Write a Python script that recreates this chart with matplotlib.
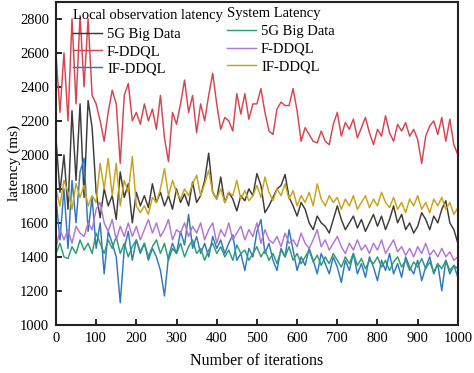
import numpy as np
import matplotlib
matplotlib.use("Agg")
import matplotlib.pyplot as plt

iterations = np.arange(0, 1001, 10)

local_5g = [
    2100, 1780, 2000, 1680, 2260, 1850, 2300, 1750, 2320, 2160,
    1780, 1630, 1800, 1700, 1760, 1620, 1900, 1750, 1830, 1600,
    1780, 1700, 1760, 1690, 1830, 1720, 1780, 1700, 1760, 1680,
    1800, 1720, 1770, 1700, 1840, 1720, 1760, 1850, 2010, 1780,
    1740, 1870, 1720, 1780, 1740, 1670, 1760, 1730, 1800, 1760,
    1890, 1820, 1660, 1700, 1750, 1800, 1820, 1885, 1750, 1700,
    1640, 1720, 1680, 1600, 1560, 1640, 1600, 1580, 1540, 1620,
    1700, 1620, 1560, 1600, 1640, 1570, 1620, 1550, 1600, 1650,
    1580, 1640, 1560, 1620, 1700, 1600, 1650, 1560, 1600, 1540,
    1580, 1660, 1620, 1560, 1640, 1600, 1680, 1730, 1600, 1560,
    1480]

local_fddql = [
    2600, 2250, 2600, 2200, 2800, 2300, 2820, 2400, 2800, 2350,
    2300, 2200, 2080, 2250, 2380, 2300, 1950, 2350, 2420, 2200,
    2250, 2180, 2300, 2200, 2270, 2150, 2350, 2100, 1960, 2250,
    2180, 2300, 2440, 2250, 2350, 2130, 2300, 2200, 2350, 2480,
    2300, 2150, 2220, 2200, 2140, 2360, 2240, 2360, 2210, 2300,
    2300, 2390, 2250, 2140, 2120, 2270, 2310, 2290, 2290, 2390,
    2260, 2080, 2160, 2120, 2080, 2070, 2140, 2080, 2060, 2180,
    2250, 2110, 2190, 2150, 2210, 2100, 2160, 2220, 2130, 2060,
    2150, 2110, 2230, 2130, 2080, 2180, 2140, 2190, 2110, 2150,
    2090, 1950, 2110, 2170, 2200, 2120, 2220, 2080, 2210, 2060,
    2000]

local_ifddql = [
    1750, 1500, 1800, 1450, 1850, 1600, 1900, 1980, 1550, 1750,
    1450, 1600, 1300, 1550, 1480, 1400, 1130, 1450, 1550, 1380,
    1500, 1420, 1480, 1380, 1450, 1400, 1320, 1170, 1400, 1480,
    1420, 1550, 1470, 1650, 1450, 1520, 1420, 1480, 1400, 1520,
    1450, 1500, 1420, 1480, 1530, 1380, 1420, 1320, 1450, 1400,
    1550, 1620, 1420, 1480, 1380, 1320, 1450, 1400, 1560, 1440,
    1320, 1400, 1350, 1450, 1380, 1300, 1420, 1360, 1300, 1400,
    1340, 1250, 1380, 1320, 1420, 1300, 1360, 1280, 1400, 1340,
    1260, 1380, 1320, 1420, 1300, 1360, 1280, 1400, 1340, 1300,
    1380, 1260, 1340, 1400, 1300, 1360, 1200, 1380, 1300, 1350,
    1280]

system_5g = [
    1420, 1480, 1400, 1390, 1460, 1420, 1500, 1440, 1480, 1420,
    1540, 1480, 1420, 1500, 1450, 1520, 1420, 1480, 1400, 1460,
    1500, 1430, 1480, 1400, 1460, 1500, 1420, 1480, 1380, 1450,
    1420, 1480, 1400, 1460, 1500, 1420, 1450, 1380, 1440, 1480,
    1420, 1460, 1400, 1440, 1380, 1470, 1420, 1440, 1380, 1420,
    1460, 1400, 1440, 1380, 1420, 1360, 1440, 1400, 1460, 1380,
    1420, 1360, 1400, 1440, 1370, 1410, 1350, 1400, 1360, 1420,
    1380, 1340, 1400, 1360, 1420, 1350, 1390, 1330, 1380, 1360,
    1400, 1340, 1380, 1320, 1370, 1400, 1340, 1380, 1320, 1370,
    1340, 1390, 1330, 1370, 1310, 1360, 1330, 1380, 1320, 1350,
    1330]

system_fddql = [
    1450, 1560, 1500, 1560, 1480, 1580, 1540, 1520, 1600, 1560,
    1680, 1720, 1600, 1550, 1620, 1500, 1580, 1520, 1600, 1520,
    1580, 1500, 1560, 1620, 1540, 1600, 1520, 1560, 1620, 1500,
    1560, 1540, 1600, 1520, 1580, 1540, 1600, 1500, 1560, 1600,
    1480, 1560, 1520, 1600, 1500, 1540, 1580, 1500, 1560, 1520,
    1600, 1480, 1560, 1500, 1480, 1520, 1460, 1540, 1480, 1500,
    1460, 1540, 1480, 1450, 1500, 1560, 1460, 1500, 1440, 1480,
    1520, 1460, 1420, 1480, 1440, 1500, 1440, 1470, 1420, 1480,
    1440, 1500, 1420, 1460, 1500, 1430, 1460, 1410, 1450, 1400,
    1460, 1420, 1480, 1410, 1440, 1400, 1450, 1400, 1430, 1380,
    1400]

system_ifddql = [
    1800, 1700, 1850, 1780, 1680, 1830, 1750, 1820, 1700, 1760,
    1720, 1950, 1800, 1980, 1760, 1950, 1700, 1850, 1780, 1990,
    1700, 1660, 1700, 1650, 1750, 1720, 1800, 1920, 1760, 1850,
    1780, 1740, 1800, 1760, 1830, 1880, 1760, 1830, 1910, 1780,
    1740, 1800, 1720, 1780, 1760, 1850, 1740, 1790, 1730, 1760,
    1820, 1750, 1870, 1780, 1730, 1800, 1760, 1830, 1740, 1790,
    1700, 1760, 1720, 1780, 1700, 1830, 1740, 1700, 1760, 1720,
    1750, 1680, 1740, 1700, 1760, 1680, 1720, 1760, 1690, 1740,
    1700, 1780, 1720, 1690, 1750, 1680, 1720, 1660, 1740, 1700,
    1760, 1680, 1720, 1660, 1740, 1700, 1750, 1680, 1720, 1650,
    1690]

labels = ["5G Big Data", "F-DDQL", "IF-DDQL"]
local_colors = ["#3b3b3b", "#d9434e", "#2f78bd"]
system_colors = ["#2e9c72", "#b076d6", "#c9a21a"]

plt.rcParams["font.family"] = ["Liberation Serif", "DejaVu Serif"]
plt.rcParams["font.size"] = 10.5

fig = plt.figure(figsize=(4.74, 3.73), dpi=100)
ax = fig.add_axes([0.118, 0.129, 0.848, 0.866])

lw = 1.05
local_series = [local_5g, local_fddql, local_ifddql]
system_series = [system_5g, system_fddql, system_ifddql]
local_lines = []
system_lines = []
for vals, c, lab in zip(local_series, local_colors, labels):
    ln, = ax.plot(iterations, vals, color=c, lw=lw, label=lab)
    local_lines.append(ln)
for vals, c, lab in zip(system_series, system_colors, labels):
    ln, = ax.plot(iterations, vals, color=c, lw=lw, label=lab)
    system_lines.append(ln)

ax.set_xlim(0, 1000)
ax.set_ylim(1000, 2900)
ax.set_xticks(np.arange(0, 1001, 100))
ax.set_yticks(np.arange(1000, 2801, 200))
ax.tick_params(direction="in", length=4, width=1.2, labelsize=10.5, pad=5)
for s in ax.spines.values():
    s.set_linewidth(1.5)
    s.set_color("#222222")
ax.set_xlabel("Number of iterations", fontsize=11.5, labelpad=6)
ax.set_ylabel("latency (ms)", fontsize=11)
ax.yaxis.set_label_coords(-0.088, 0.5)

common = dict(frameon=False, fontsize=10.5, title_fontsize=10.5, handlelength=2.0,
              handletextpad=0.35, labelspacing=0.28, borderpad=0, borderaxespad=0,
              alignment="left", loc="upper left")
leg1 = ax.legend(handles=local_lines, title="Local observation latency",
                 bbox_to_anchor=(0.042, 0.978), **common)
leg1._legend_box.sep = 4
ax.add_artist(leg1)
leg2 = ax.legend(handles=system_lines, title="System Latency",
                 bbox_to_anchor=(0.425, 0.985), **common)
leg2._legend_box.sep = 4

fig.savefig("out.png", dpi=100)
